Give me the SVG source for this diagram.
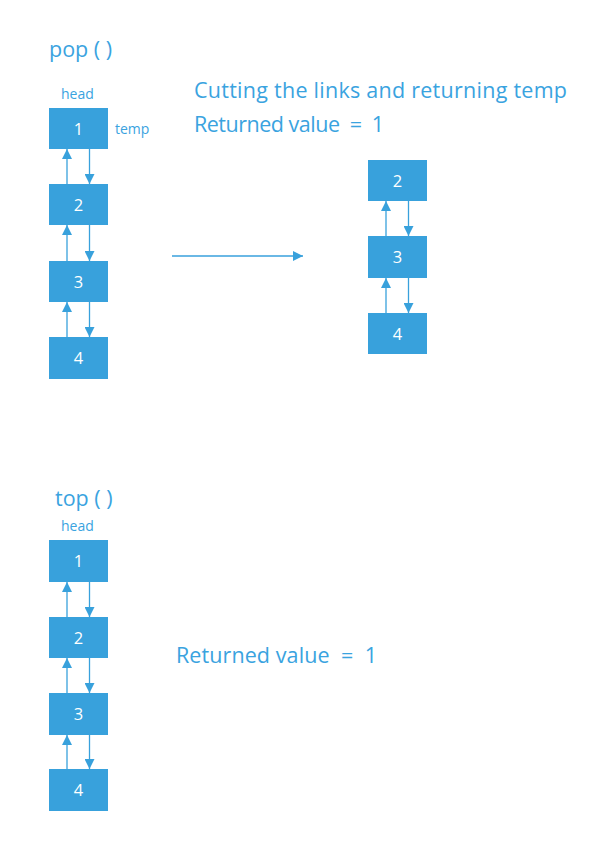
<svg xmlns="http://www.w3.org/2000/svg" width="595" height="850" viewBox="0 0 595 850">
<style>
.bg{fill:#ffffff}
.box{fill:#38a1dc}
.num{fill:#ffffff;font-family:"Open Sans","Noto Sans",sans-serif;font-size:16.5px;text-anchor:middle}
.lbl{fill:#3aa3df;font-family:"Open Sans","Noto Sans",sans-serif}
.big{font-size:21.5px}
.small{font-size:14px}
.link{stroke:#38a1dc;stroke-width:1.3;fill:none;marker-end:url(#ah)}
</style>
<defs>
<marker id="ah" viewBox="0 0 10 10" refX="10" refY="5" markerWidth="10" markerHeight="10" markerUnits="userSpaceOnUse" orient="auto">
<path d="M0,0 L10,5 L0,10 z" fill="#38a1dc"/>
</marker>
</defs>
<rect class="bg" x="0" y="0" width="595" height="850"/>

<text class="lbl big" x="49" y="57">pop ( )</text>
<text class="lbl small" x="61" y="99">head</text>
<text class="lbl small" x="115" y="134">temp</text>
<text class="lbl big" x="194" y="98" textLength="373">Cutting the links and returning temp</text>
<text class="lbl big" x="194" y="132" textLength="190" xml:space="preserve">Returned value  =  1</text>

<text class="lbl big" x="55" y="506">top ( )</text>
<text class="lbl small" x="61" y="531">head</text>
<text class="lbl big" x="176" y="663" textLength="201" xml:space="preserve">Returned value  =  1</text>

<g id="pop-node1"><rect class="box" x="49" y="108" width="59" height="41"/><text class="num" x="78.5" y="134.5">1</text></g>
<g id="pop-node2"><rect class="box" x="49" y="184" width="59" height="41"/><text class="num" x="78.5" y="210.5">2</text></g>
<g id="pop-node3"><rect class="box" x="49" y="261" width="59" height="41"/><text class="num" x="78.5" y="287.5">3</text></g>
<g id="pop-node4"><rect class="box" x="49" y="337" width="59" height="42"/><text class="num" x="78.5" y="364">4</text></g>

<g id="res-node2"><rect class="box" x="368" y="160" width="59" height="41"/><text class="num" x="397.5" y="186.5">2</text></g>
<g id="res-node3"><rect class="box" x="368" y="236" width="59" height="42"/><text class="num" x="397.5" y="262.5">3</text></g>
<g id="res-node4"><rect class="box" x="368" y="313" width="59" height="41"/><text class="num" x="397.5" y="339.5">4</text></g>

<g id="top-node1"><rect class="box" x="49" y="540" width="59" height="42"/><text class="num" x="78.5" y="566.5">1</text></g>
<g id="top-node2"><rect class="box" x="49" y="617" width="59" height="41"/><text class="num" x="78.5" y="643.5">2</text></g>
<g id="top-node3"><rect class="box" x="49" y="693" width="59" height="42"/><text class="num" x="78.5" y="719.5">3</text></g>
<g id="top-node4"><rect class="box" x="49" y="769" width="59" height="42"/><text class="num" x="78.5" y="795.5">4</text></g>

<g id="connectors">
<line class="link" x1="67" y1="184" x2="67" y2="149"/>
<line class="link" x1="89.5" y1="149" x2="89.5" y2="184"/>
<line class="link" x1="67" y1="261" x2="67" y2="225"/>
<line class="link" x1="89.5" y1="225" x2="89.5" y2="261"/>
<line class="link" x1="67" y1="337" x2="67" y2="302"/>
<line class="link" x1="89.5" y1="302" x2="89.5" y2="337"/>

<line class="link" x1="172" y1="256" x2="303" y2="256"/>

<line class="link" x1="386" y1="236" x2="386" y2="201"/>
<line class="link" x1="408.5" y1="201" x2="408.5" y2="236"/>
<line class="link" x1="386" y1="313" x2="386" y2="278"/>
<line class="link" x1="408.5" y1="278" x2="408.5" y2="313"/>

<line class="link" x1="67" y1="617" x2="67" y2="582"/>
<line class="link" x1="89.5" y1="582" x2="89.5" y2="617"/>
<line class="link" x1="67" y1="693" x2="67" y2="658"/>
<line class="link" x1="89.5" y1="658" x2="89.5" y2="693"/>
<line class="link" x1="67" y1="769" x2="67" y2="735"/>
<line class="link" x1="89.5" y1="735" x2="89.5" y2="769"/>
</g>
</svg>
